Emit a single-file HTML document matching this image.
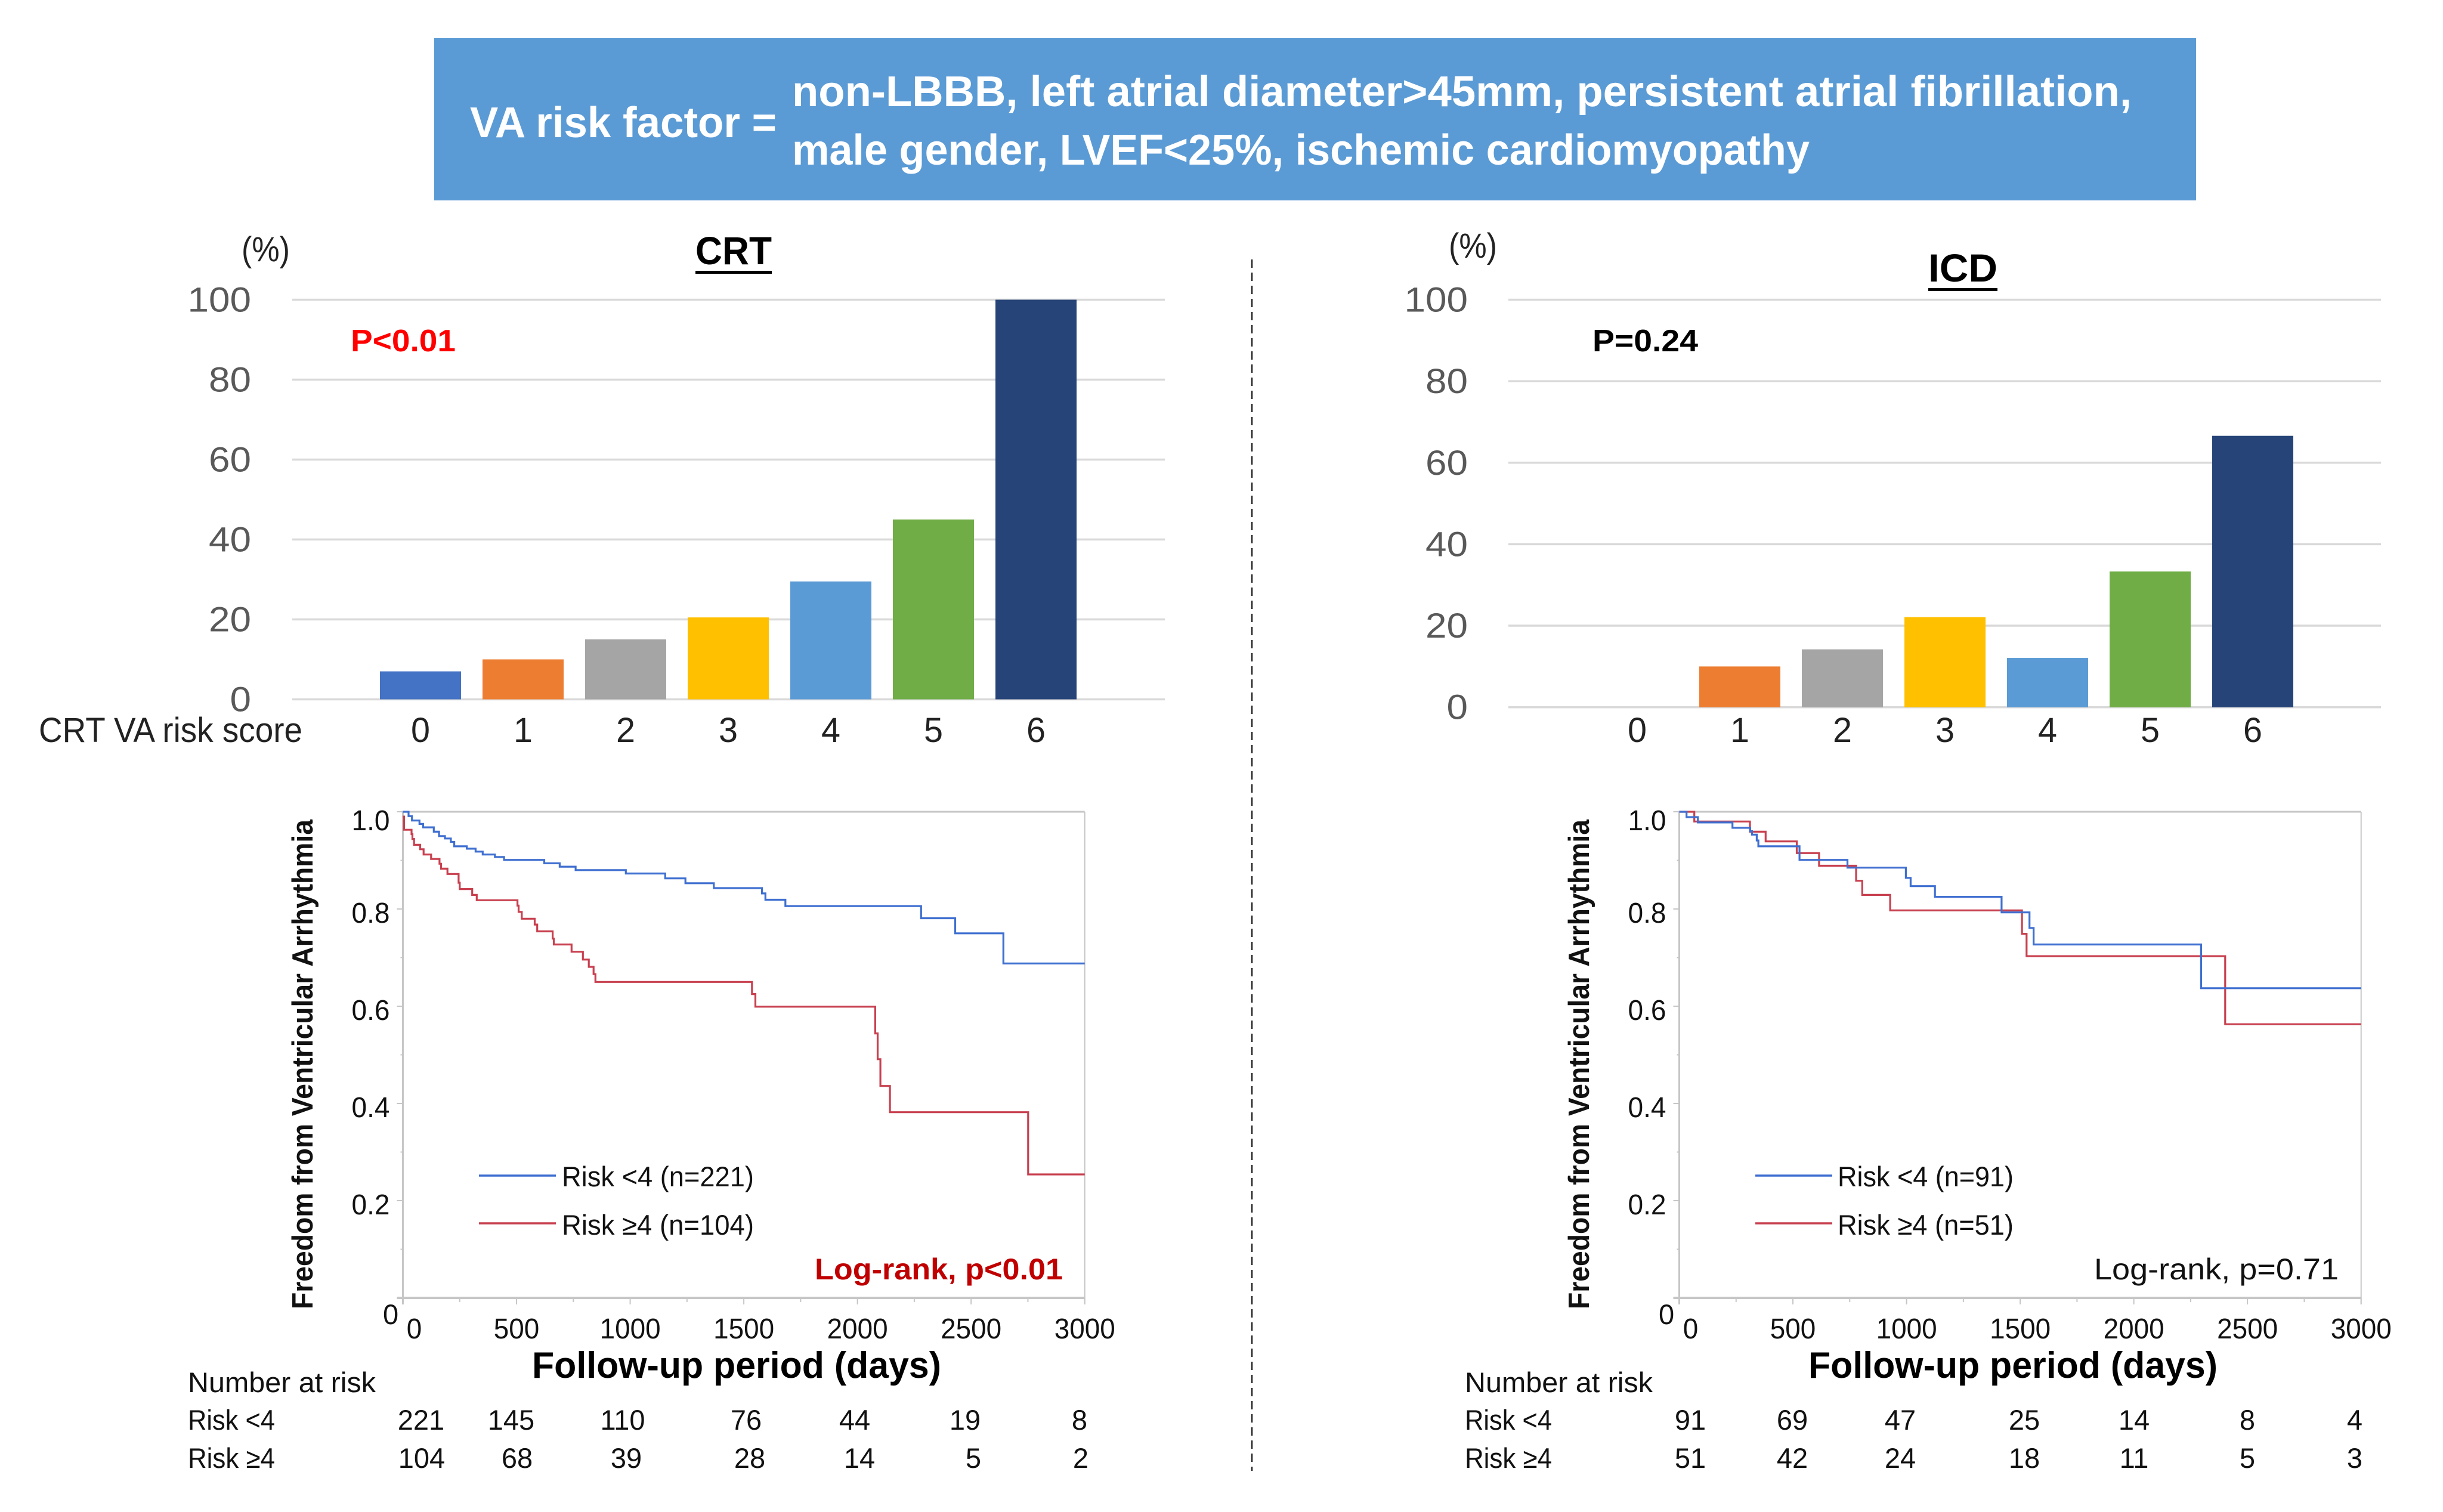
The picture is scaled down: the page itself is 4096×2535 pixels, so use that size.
<!DOCTYPE html>
<html lang="en">
<head>
<meta charset="utf-8">
<title>VA risk score charts</title>
<style>
html,body{margin:0;padding:0;background:#fff;}
svg{display:block;font-family:"Liberation Sans",sans-serif;}
</style>
</head>
<body>
<svg id="figure" xmlns="http://www.w3.org/2000/svg" width="4096" height="2535" viewBox="0 0 4096 2535">
  <rect x="0" y="0" width="4096" height="2535" fill="#ffffff"/>

  <g>
    <rect x="728" y="64" width="2954" height="272" fill="#5b9bd5"/>
    <text x="788" y="230" font-size="72" font-weight="700" fill="#fff" textLength="514" lengthAdjust="spacingAndGlyphs">VA risk factor =</text>
    <text x="1328" y="178" font-size="72" font-weight="700" fill="#fff" textLength="2246" lengthAdjust="spacingAndGlyphs">non-LBBB, left atrial diameter&gt;45mm, persistent atrial fibrillation,</text>
    <text x="1328" y="276" font-size="72" font-weight="700" fill="#fff" textLength="1706" lengthAdjust="spacingAndGlyphs">male gender, LVEF&lt;25%, ischemic cardiomyopathy</text>
  </g>

  <line x1="2099" y1="435" x2="2099" y2="2466" stroke="#222" stroke-width="2.5" stroke-dasharray="14 8"/>

  <!-- CRT bar panel -->
  <g id="crt-bars">
    <text x="405" y="438" font-size="58" fill="#222" textLength="81" lengthAdjust="spacingAndGlyphs">(%)</text>
    <text x="1166" y="443" font-size="66" font-weight="700" fill="#000" textLength="128" lengthAdjust="spacingAndGlyphs">CRT</text>
    <rect x="1166" y="454" width="128" height="5" fill="#000"/>
    <text x="588" y="589" font-size="52" font-weight="700" fill="#ff0000" textLength="176" lengthAdjust="spacingAndGlyphs">P&lt;0.01</text>
    <text x="65" y="1244" font-size="58" fill="#222" textLength="442" lengthAdjust="spacingAndGlyphs">CRT VA risk score</text>
  </g>

  <!-- ICD bar panel -->
  <g id="icd-bars">
    <text x="2429" y="432" font-size="58" fill="#222" textLength="81" lengthAdjust="spacingAndGlyphs">(%)</text>
    <text x="3233" y="472" font-size="66" font-weight="700" fill="#000" textLength="116" lengthAdjust="spacingAndGlyphs">ICD</text>
    <rect x="3233" y="483" width="116" height="5" fill="#000"/>
    <text x="2670" y="589" font-size="52" font-weight="700" fill="#000" textLength="177" lengthAdjust="spacingAndGlyphs">P=0.24</text>
  </g>

  <!-- CRT KM panel -->
  <g id="crt-km">
    <text transform="translate(524 2195) rotate(-90)" font-size="49" font-weight="700" fill="#111" textLength="821" lengthAdjust="spacingAndGlyphs">Freedom from Ventricular Arrhythmia</text>
    <text x="642" y="2220" font-size="47" fill="#111">0</text>
    <text x="892" y="2310" font-size="62" font-weight="700" fill="#000" textLength="686" lengthAdjust="spacingAndGlyphs">Follow-up period (days)</text>
    <line x1="803" y1="1971" x2="932" y2="1971" stroke="#3f6fd0" stroke-width="3.5"/>
    <text x="942" y="1989" font-size="47" fill="#111" textLength="322" lengthAdjust="spacingAndGlyphs">Risk &lt;4 (n=221)</text>
    <line x1="803" y1="2051" x2="932" y2="2051" stroke="#c8404f" stroke-width="3.5"/>
    <text x="942" y="2070" font-size="47" fill="#111" textLength="322" lengthAdjust="spacingAndGlyphs">Risk ≥4 (n=104)</text>
    <text x="1366" y="2145" font-size="50" font-weight="700" fill="#c00000" textLength="416" lengthAdjust="spacingAndGlyphs">Log-rank, p&lt;0.01</text>
  </g>

  <!-- ICD KM panel -->
  <g id="icd-km">
    <text transform="translate(2664 2195) rotate(-90)" font-size="49" font-weight="700" fill="#111" textLength="821" lengthAdjust="spacingAndGlyphs">Freedom from Ventricular Arrhythmia</text>
    <text x="2781" y="2220" font-size="47" fill="#111">0</text>
    <text x="3032" y="2310" font-size="62" font-weight="700" fill="#000" textLength="686" lengthAdjust="spacingAndGlyphs">Follow-up period (days)</text>
    <line x1="2943" y1="1971" x2="3072" y2="1971" stroke="#3f6fd0" stroke-width="3.5"/>
    <text x="3081" y="1989" font-size="47" fill="#111" textLength="295" lengthAdjust="spacingAndGlyphs">Risk &lt;4 (n=91)</text>
    <line x1="2943" y1="2051" x2="3072" y2="2051" stroke="#c8404f" stroke-width="3.5"/>
    <text x="3081" y="2070" font-size="47" fill="#111" textLength="295" lengthAdjust="spacingAndGlyphs">Risk ≥4 (n=51)</text>
    <text x="3511" y="2145" font-size="50" fill="#111" textLength="410" lengthAdjust="spacingAndGlyphs">Log-rank, p=0.71</text>
  </g>

  <!-- Number at risk tables -->
  <g font-size="47" fill="#111">
    <text x="315" y="2334" textLength="315" lengthAdjust="spacingAndGlyphs">Number at risk</text>
    <text x="315" y="2397" textLength="146" lengthAdjust="spacingAndGlyphs">Risk &lt;4</text>
    <text x="315" y="2461" textLength="146" lengthAdjust="spacingAndGlyphs">Risk ≥4</text>
    <g text-anchor="middle">
      <text x="706" y="2397">221</text>
      <text x="857" y="2397">145</text>
      <text x="1044" y="2397">110</text>
      <text x="1251" y="2397">76</text>
      <text x="1433" y="2397">44</text>
      <text x="1618" y="2397">19</text>
      <text x="1810" y="2397">8</text>
    </g>
    <g text-anchor="middle">
      <text x="707" y="2461">104</text>
      <text x="867" y="2461">68</text>
      <text x="1050" y="2461">39</text>
      <text x="1257" y="2461">28</text>
      <text x="1441" y="2461">14</text>
      <text x="1632" y="2461">5</text>
      <text x="1812" y="2461">2</text>
    </g>
  </g>
  <g font-size="47" fill="#111">
    <text x="2456" y="2334" textLength="315" lengthAdjust="spacingAndGlyphs">Number at risk</text>
    <text x="2456" y="2397" textLength="146" lengthAdjust="spacingAndGlyphs">Risk &lt;4</text>
    <text x="2456" y="2461" textLength="146" lengthAdjust="spacingAndGlyphs">Risk ≥4</text>
    <g text-anchor="middle">
      <text x="2834" y="2397">91</text>
      <text x="3005" y="2397">69</text>
      <text x="3186" y="2397">47</text>
      <text x="3394" y="2397">25</text>
      <text x="3578" y="2397">14</text>
      <text x="3768" y="2397">8</text>
      <text x="3948" y="2397">4</text>
    </g>
    <g text-anchor="middle">
      <text x="2834" y="2461">51</text>
      <text x="3005" y="2461">42</text>
      <text x="3186" y="2461">24</text>
      <text x="3394" y="2461">18</text>
      <text x="3578" y="2461">11</text>
      <text x="3768" y="2461">5</text>
      <text x="3948" y="2461">3</text>
    </g>
  </g>
</svg>

<script>
// ---- Bar chart data ----
const riskScores = ["0", "1", "2", "3", "4", "5", "6"];
const crtBarValues = [7, 10, 15, 20.5, 29.5, 45, 100];
const icdBarValues = [0, 10, 14.2, 22.1, 12.1, 33.3, 66.6];
const barColors = ["#4472c4", "#ed7d31", "#a5a5a5", "#ffc000", "#5b9bd5", "#70ad47", "#264478"];
const percentTicks = [0, 20, 40, 60, 80, 100];

// ---- Survival chart data ----
const followUpTicks = [0, 500, 1000, 1500, 2000, 2500, 3000];
const followUpMinorTicks = [250, 750, 1250, 1750, 2250, 2750];
const survivalTicks = [1, 0.8, 0.6, 0.4, 0.2];
const survivalMinorTicks = [0.9, 0.7, 0.5, 0.3, 0.1];

const crtLowDays = [0, 25, 40, 73, 89, 136, 159, 185, 211, 226, 281, 320, 351, 405, 445, 622, 690, 760, 981, 1154, 1243, 1368, 1580, 1595, 1683, 2280, 2430, 2642];
const crtLowSurvival = [1, 0.991, 0.982, 0.975, 0.968, 0.959, 0.95, 0.945, 0.938, 0.929, 0.924, 0.918, 0.912, 0.907, 0.901, 0.894, 0.887, 0.88, 0.873, 0.863, 0.853, 0.843, 0.832, 0.819, 0.806, 0.781, 0.75, 0.688];
const crtHighDays = [0, 5, 38, 42, 49, 76, 91, 124, 161, 168, 196, 245, 250, 305, 325, 504, 509, 523, 580, 591, 659, 664, 742, 792, 818, 839, 847, 1536, 1551, 2078, 2089, 2101, 2143, 2751];
const crtHighSurvival = [0.99, 0.963, 0.954, 0.944, 0.932, 0.923, 0.912, 0.903, 0.893, 0.883, 0.872, 0.854, 0.841, 0.829, 0.818, 0.807, 0.794, 0.78, 0.768, 0.754, 0.739, 0.727, 0.712, 0.696, 0.681, 0.666, 0.65, 0.625, 0.599, 0.544, 0.491, 0.436, 0.382, 0.254];
const icdLowDays = [0, 32, 82, 234, 312, 320, 341, 348, 529, 740, 997, 1018, 1125, 1418, 1541, 1559, 2296];
const icdLowSurvival = [1, 0.989, 0.978, 0.967, 0.96, 0.953, 0.941, 0.929, 0.901, 0.885, 0.864, 0.847, 0.825, 0.793, 0.761, 0.727, 0.637];
const icdHighDays = [0, 66, 311, 380, 517, 615, 778, 805, 928, 1508, 1528, 2402];
const icdHighSurvival = [1, 0.98, 0.959, 0.939, 0.915, 0.889, 0.858, 0.829, 0.797, 0.749, 0.703, 0.563];

const SVG_NS = "http://www.w3.org/2000/svg";

function svgEl(parent, tag, attrs, text) {
  const node = document.createElementNS(SVG_NS, tag);
  Object.keys(attrs).forEach(function (k) { node.setAttribute(k, attrs[k]); });
  if (text !== undefined) node.textContent = text;
  parent.appendChild(node);
  return node;
}

function drawBarChart(group, prefix, values, layout) {
  const yScale = function (v) { return layout.base - v * (layout.base - layout.top) / 100; };
  const xScale = function (i) { return layout.center + (i - 3) * 172; };

  percentTicks.forEach(function (t) {
    const grid = svgEl(group, "line", { x1: layout.left, x2: layout.right, y1: yScale(t), y2: yScale(t), stroke: "#d9d9d9", "stroke-width": 3.5 });
    
    
    const label = String(t);
    const tick = svgEl(group, "text", { x: layout.tickRight, y: yScale(t) + 20, "font-size": 58, fill: "#595959", "text-anchor": "end", textLength: label.length * 35.5, lengthAdjust: "spacingAndGlyphs" }, label);
    
    
  });

  riskScores.forEach(function (score, i) {
    const v = values[i];
    if (v > 0) {
      const bar = svgEl(group, "rect", { x: xScale(i) - 68, width: 136, y: yScale(v), height: yScale(0) - yScale(v), fill: barColors[i] });
      
      
    }
    const cat = svgEl(group, "text", { x: xScale(i), y: 1244, "font-size": 58, fill: "#222", "text-anchor": "middle", textLength: 32, lengthAdjust: "spacingAndGlyphs" }, score);
    
    
  });
}

function stepPath(days, surv, xScale, yScale) {
  let d = "M" + xScale(days[0]) + " " + yScale(surv[0]);
  for (let i = 1; i < days.length; i++) {
    d += "H" + xScale(days[i]).toFixed(1) + "V" + yScale(surv[i]).toFixed(1);
  }
  d += "H" + xScale(3000);
  return d;
}

function drawSurvivalChart(group, prefix, offset, lowDays, lowSurv, highDays, highSurv) {
  const x0 = 675.5 + offset, x1 = 1818.7 + offset, yTop = 1361, yBot = 2176;
  const xScale = function (d) { return x0 + d * (x1 - x0) / 3000; };
  const yScale = function (v) { return yBot - v * (yBot - yTop); };
  const frame = "#c6c6c6";

  const top = svgEl(group, "line", { x1: x0 - 2, x2: x1, y1: yTop, y2: yTop, stroke: frame, "stroke-width": 3 });
  
  
  const right = svgEl(group, "line", { x1: x1, x2: x1, y1: yTop, y2: yBot + 11, stroke: frame, "stroke-width": 2 });
  
  
  const yAxis = svgEl(group, "line", { x1: x0, x2: x0, y1: yTop, y2: yBot + 11, stroke: frame, "stroke-width": 3 });
  
  
  const xAxis = svgEl(group, "line", { x1: x0 - 10, x2: x1, y1: yBot, y2: yBot, stroke: frame, "stroke-width": 4 });
  
  

  followUpTicks.forEach(function (t) {
    const tick = svgEl(group, "line", { x1: xScale(t), x2: xScale(t), y1: yBot, y2: yBot + 11, stroke: frame, "stroke-width": 2 });
    
    
    const tickText = String(t);
    const label = svgEl(group, "text", { x: xScale(t) + (t === 0 ? 19 : 0), y: 2244, "font-size": 48, fill: "#111", "text-anchor": "middle", textLength: tickText.length * 25.5, lengthAdjust: "spacingAndGlyphs" }, tickText);
    
    
  });
  followUpMinorTicks.forEach(function (t) {
    const tick = svgEl(group, "line", { x1: xScale(t), x2: xScale(t), y1: yBot, y2: yBot + 7, stroke: frame, "stroke-width": 2 });
    
    
  });
  survivalTicks.forEach(function (t) {
    const tick = svgEl(group, "line", { x1: x0 - 10, x2: x0, y1: yScale(t), y2: yScale(t), stroke: frame, "stroke-width": 2 });
    
    
    const label = svgEl(group, "text", { x: x0 - 22, y: yScale(t) + (t === 1 ? 31 : 23), "font-size": 48, fill: "#111", "text-anchor": "end", textLength: 64, lengthAdjust: "spacingAndGlyphs" }, t.toFixed(1));
    
    
  });
  survivalMinorTicks.forEach(function (t) {
    const tick = svgEl(group, "line", { x1: x0 - 4, x2: x0, y1: yScale(t), y2: yScale(t), stroke: frame, "stroke-width": 2 });
    
    
  });

  const highLine = svgEl(group, "path", { d: stepPath(highDays, highSurv, xScale, yScale), fill: "none", stroke: "#c8404f", "stroke-width": 3.2 });
  
  
  const lowLine = svgEl(group, "path", { d: stepPath(lowDays, lowSurv, xScale, yScale), fill: "none", stroke: "#3f6fd0", "stroke-width": 3.2 });
  
  
}

drawBarChart(document.getElementById("crt-bars"), "crt", crtBarValues, { base: 1172.5, top: 502.5, left: 490, right: 1953, center: 1221, tickRight: 421 });
drawBarChart(document.getElementById("icd-bars"), "icd", icdBarValues, { base: 1185.7, top: 502.5, left: 2529, right: 3992, center: 3261, tickRight: 2461 });
drawSurvivalChart(document.getElementById("crt-km"), "crt-km", 0, crtLowDays, crtLowSurvival, crtHighDays, crtHighSurvival);
drawSurvivalChart(document.getElementById("icd-km"), "icd-km", 2140, icdLowDays, icdLowSurvival, icdHighDays, icdHighSurvival);
</script>
</body>
</html>
